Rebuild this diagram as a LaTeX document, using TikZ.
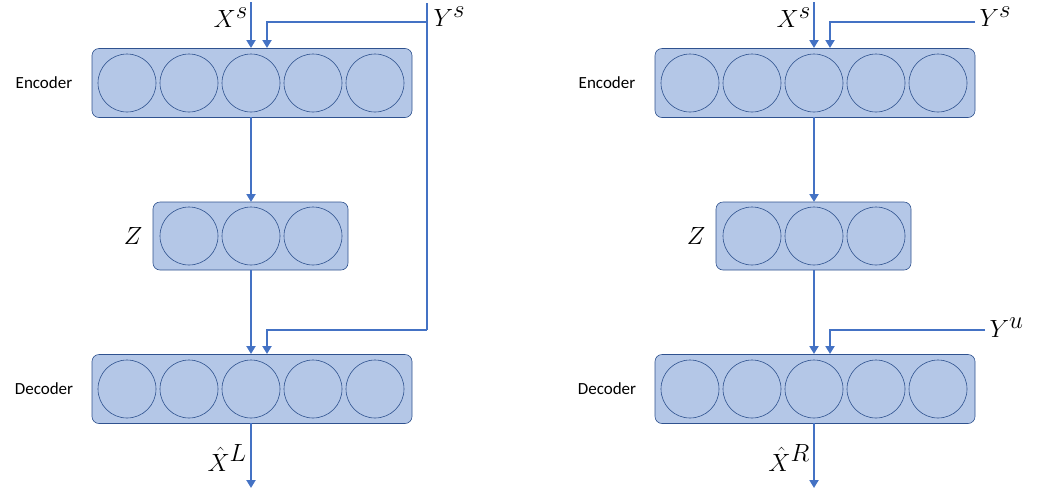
\documentclass[tikz,border=0pt]{standalone}
\usepackage{fontspec}
\setmainfont{Carlito}
\usetikzlibrary{arrows.meta}
\definecolor{ln}{RGB}{68,114,196}
\definecolor{fl}{RGB}{180,199,231}
\definecolor{cs}{RGB}{47,82,143}
\begin{document}
\begin{tikzpicture}[x=1pt,y=-1pt,
  boxs/.style={draw=cs,fill=fl,rounded corners=7pt,line width=0.6pt},
  circ/.style={draw=cs,circle,minimum size=58pt,inner sep=0pt,line width=0.6pt},
  con/.style={draw=ln,line width=2.5pt,-{Triangle[length=8pt,width=9pt]}},
  lin/.style={draw=ln,line width=2.5pt},
  lab/.style={font=\fontsize{17}{19}\selectfont},
  mth/.style={font=\fontsize{33}{35}\selectfont}]
\useasboundingbox (0,0) rectangle (1038,488);
\foreach \o/\p in {0/L,563/R}{
  \begin{scope}[xshift=\o pt]
  \node[boxs,minimum width=320pt,minimum height=69pt] (enc\p) at (252,83) {};
  \node[boxs,minimum width=195pt,minimum height=68pt] (z\p) at (250.5,236) {};
  \node[boxs,minimum width=320pt,minimum height=69pt] (dec\p) at (252,389) {};
  \foreach \c [count=\i] in {127,189,251,313,375}{
    \node[circ] (e\p\i) at (\c,83) {};
    \node[circ] (d\p\i) at (\c,389) {};}
  \foreach \c [count=\i] in {189,251,313}{\node[circ] (zz\p\i) at (\c,236) {};}
  \node[lab] (encl\p) at (44,83) {Encoder};
  \node[lab] (decl\p) at (44,389) {Decoder};
  \node[mth] (zl\p) at (133,236) {$Z$};
  \node[mth,anchor=east,inner sep=1pt] (xl\p) at (249,18) {$X^s$};
  \node[mth,anchor=east,inner sep=1pt] (xh\p) at (248,458) {$\hat X^\p$};
  \coordinate (xt\p) at (251,2);
  \coordinate (ob\p) at (251,488);
  \draw[con] (xt\p) -- (251,48);
  \draw[con] (251,117) -- (251,202);
  \draw[con] (251,270) -- (251,354);
  \draw[con] (251,423) -- (ob\p);
  \end{scope}}
\node[mth,anchor=west] (ysL) at (430,17) {$Y^s$};
\draw[lin] (427,3) -- (427,330);
\draw[con] (427,22) -- (267,22) -- (267,48);
\draw[con] (427,330) -- (267,330) -- (267,354);
\node[mth,anchor=west] (ysR) at (976,17) {$Y^s$};
\draw[con] (975,22) -- (830,22) -- (830,48);
\node[mth,anchor=west] (yuR) at (986,328) {$Y^u$};
\draw[con] (985,330) -- (830,330) -- (830,354);
\end{tikzpicture}
\end{document}
